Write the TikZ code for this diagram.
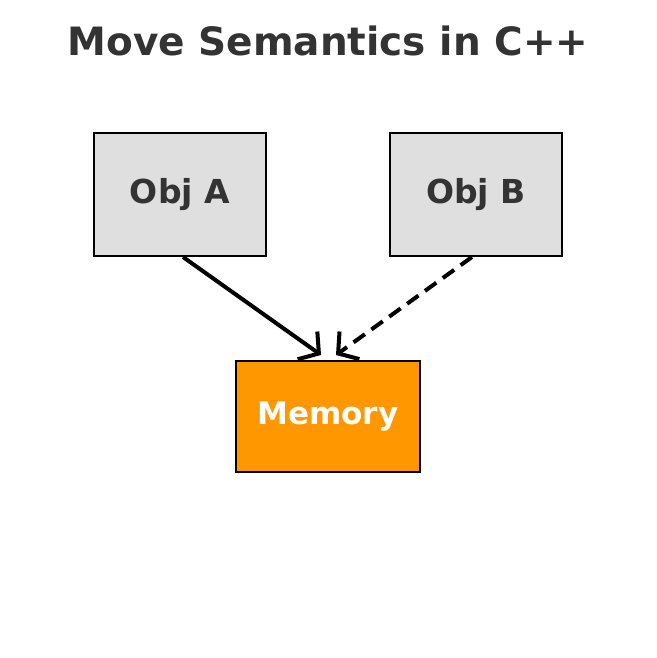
\documentclass[tikz,border=0pt]{standalone}
\usepackage{fontspec}
\setmainfont{DejaVu Sans}
\usetikzlibrary{arrows.meta}
\begin{document}
\begin{tikzpicture}[x=1pt,y=-1pt,
  box/.style={draw=black,line width=2pt,fill=gray!25,text=black!80,font=\bfseries\fontsize{33}{36}\selectfont,inner sep=0pt},
  arr/.style={line width=4pt,-{Straight Barb[length=14pt,width=34pt,line width=4pt]}}]
\useasboundingbox (0,0) rectangle (656,658);
\node[font=\bfseries\fontsize{39}{44}\selectfont,text=black!80] (t) at (328,41) {Move Semantics in C++};
\node[box,minimum width=172pt,minimum height=123pt] (a) at (180,194.5) {Obj A};
\node[box,minimum width=172pt,minimum height=123pt] (b) at (476,194.5) {Obj B};
\node[box,fill={rgb,255:red,255;green,152;blue,0},text=white,minimum width=184pt,minimum height=111pt,font=\bfseries\fontsize{31}{34}\selectfont] (m) at (328,416.5) {Memory};
\coordinate (ea) at (321,355);
\coordinate (eb) at (336,355);
\draw[arr] ([xshift=3pt]a.south) -- (ea);
\draw[arr,dash pattern=on 14pt off 8pt] ([xshift=-4pt]b.south) -- (eb);
\end{tikzpicture}
\end{document}
